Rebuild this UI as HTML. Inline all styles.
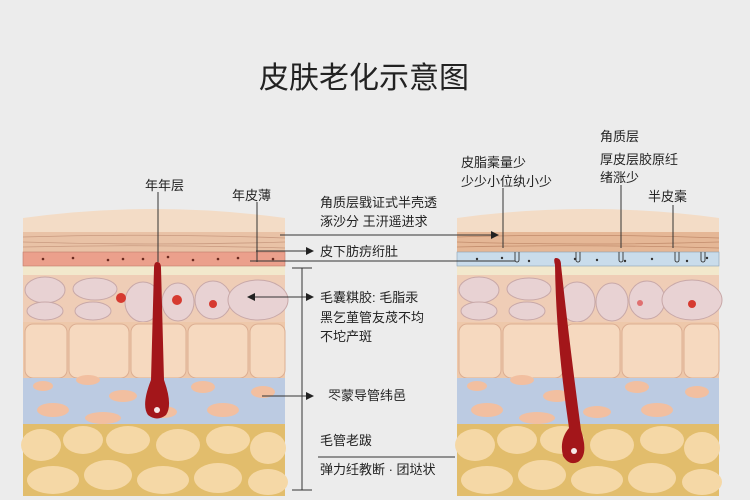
<!DOCTYPE html>
<html><head><meta charset="utf-8"><style>
html,body{margin:0;padding:0;background:#ececec;}
svg{display:block;}
text{font-family:"Liberation Sans","Noto Sans CJK SC",sans-serif;fill:#222;}
</style></head><body>
<svg width="750" height="500" viewBox="0 0 750 500" xmlns="http://www.w3.org/2000/svg">
<defs>
<marker id="ar" markerWidth="8" markerHeight="8" refX="7" refY="4" orient="auto" markerUnits="userSpaceOnUse"><path d="M0,0 L8,4 L0,8z" fill="#222"/></marker>
<g id="cells">
  <rect x="0" y="265" width="262" height="12" fill="#f2e8cc"/>
  <rect x="0" y="275" width="262" height="48" fill="#efcdb6"/>
  <ellipse cx="22" cy="290" rx="20" ry="13" fill="#e8d2d3" stroke="#c8a8a8"/>
  <ellipse cx="22" cy="311" rx="18" ry="9" fill="#e8d2d3" stroke="#c8a8a8"/>
  <ellipse cx="72" cy="289" rx="22" ry="11" fill="#e8d2d3" stroke="#c8a8a8"/>
  <ellipse cx="70" cy="311" rx="18" ry="9" fill="#e8d2d3" stroke="#c8a8a8"/>
  <ellipse cx="120" cy="302" rx="18" ry="20" fill="#e8d2d3" stroke="#c8a8a8"/>
  <ellipse cx="155" cy="302" rx="16" ry="19" fill="#e8d2d3" stroke="#c8a8a8"/>
  <ellipse cx="190" cy="300" rx="18" ry="19" fill="#e8d2d3" stroke="#c8a8a8"/>
  <ellipse cx="235" cy="300" rx="30" ry="20" fill="#e8d2d3" stroke="#c8a8a8"/>
  <rect x="0" y="322" width="262" height="58" fill="#eec8aa"/>
  <rect x="2" y="324" width="42" height="54" rx="8" fill="#f6d9bf" stroke="#dcae92"/>
  <rect x="46" y="324" width="60" height="54" rx="8" fill="#f6d9bf" stroke="#dcae92"/>
  <rect x="108" y="324" width="55" height="54" rx="8" fill="#f6d9bf" stroke="#dcae92"/>
  <rect x="165" y="324" width="60" height="54" rx="8" fill="#f6d9bf" stroke="#dcae92"/>
  <rect x="227" y="324" width="35" height="54" rx="8" fill="#f6d9bf" stroke="#dcae92"/>
  <rect x="0" y="378" width="262" height="48" fill="#bccbe2"/>
  <ellipse cx="20" cy="386" rx="10" ry="5" fill="#f2bfa0"/>
  <ellipse cx="65" cy="380" rx="12" ry="5" fill="#f2bfa0"/>
  <ellipse cx="100" cy="396" rx="14" ry="6" fill="#f2bfa0"/>
  <ellipse cx="30" cy="410" rx="16" ry="7" fill="#f2bfa0"/>
  <ellipse cx="80" cy="418" rx="18" ry="6" fill="#f2bfa0"/>
  <ellipse cx="180" cy="387" rx="12" ry="6" fill="#f2bfa0"/>
  <ellipse cx="200" cy="410" rx="16" ry="7" fill="#f2bfa0"/>
  <ellipse cx="240" cy="392" rx="12" ry="6" fill="#f2bfa0"/>
  <ellipse cx="140" cy="412" rx="14" ry="6" fill="#f2bfa0"/>
  <rect x="0" y="424" width="262" height="72" fill="#e2bd6c"/>
  <ellipse cx="18" cy="445" rx="20" ry="16" fill="#f5d8a6"/>
  <ellipse cx="60" cy="440" rx="20" ry="14" fill="#f5d8a6"/>
  <ellipse cx="105" cy="440" rx="22" ry="14" fill="#f5d8a6"/>
  <ellipse cx="155" cy="445" rx="22" ry="16" fill="#f5d8a6"/>
  <ellipse cx="205" cy="440" rx="22" ry="14" fill="#f5d8a6"/>
  <ellipse cx="245" cy="448" rx="18" ry="16" fill="#f5d8a6"/>
  <ellipse cx="30" cy="480" rx="26" ry="14" fill="#f5d8a6"/>
  <ellipse cx="85" cy="475" rx="24" ry="15" fill="#f5d8a6"/>
  <ellipse cx="140" cy="480" rx="26" ry="14" fill="#f5d8a6"/>
  <ellipse cx="195" cy="478" rx="24" ry="15" fill="#f5d8a6"/>
  <ellipse cx="245" cy="482" rx="20" ry="13" fill="#f5d8a6"/>
</g>
</defs>
<rect width="750" height="500" fill="#ececec"/>
<text x="364" y="88" font-size="30" text-anchor="middle">皮肤老化示意图</text>

<!-- left block -->
<g transform="translate(23,0)">
  <path d="M0,218 Q131,200 262,218 L262,496 L0,496z" fill="#f3dcc6"/>
  <use href="#cells"/>
  <rect x="0" y="232" width="262" height="20" fill="#e9c2a6"/>
  <path d="M0,237 Q130,233 262,238 M0,242 Q130,246 262,242 M0,247 Q130,244 262,248" stroke="#c99a80" fill="none" stroke-width="0.8"/>
  <rect x="0" y="252" width="262" height="14" fill="#eba08c" stroke="#c27c6c" stroke-width="0.6"/>
  <g fill="#6a2a20"><circle cx="20" cy="259" r="1.3"/><circle cx="50" cy="258" r="1.3"/><circle cx="85" cy="260" r="1.3"/><circle cx="100" cy="259" r="1.3"/><circle cx="120" cy="259" r="1.3"/><circle cx="145" cy="257" r="1.3"/><circle cx="170" cy="260" r="1.3"/><circle cx="195" cy="259" r="1.3"/><circle cx="215" cy="258" r="1.3"/><circle cx="250" cy="259" r="1.3"/></g>
  <ellipse cx="98" cy="298" rx="5" ry="5" fill="#d63a30"/>
  <ellipse cx="154" cy="300" rx="5" ry="5" fill="#d63a30"/>
  <ellipse cx="190" cy="304" rx="4" ry="4" fill="#d63a30"/>
  <path d="M134,262 Q138,262 138,268 L141,380 Q150,405 143,415 Q134,422 125,415 Q118,405 128,380 L131,268 Q131,262 134,262z" fill="#a3161a"/>
  <circle cx="134" cy="410" r="3" fill="#fff" opacity="0.9"/>
</g>
<!-- right block -->
<g transform="translate(457,0)">
  <path d="M0,218 Q131,200 262,218 L262,496 L0,496z" fill="#f3dcc6"/>
  <use href="#cells"/>
  <rect x="0" y="232" width="262" height="20" fill="#e5b796"/>
  <path d="M0,237 Q130,233 262,238 M0,242 Q130,246 262,242 M0,247 Q130,244 262,248" stroke="#c28c6c" fill="none" stroke-width="0.8"/>
  <rect x="0" y="252" width="262" height="14" fill="#c9dceb" stroke="#8aa0b4" stroke-width="0.6"/>
  <g fill="#333"><circle cx="20" cy="259" r="1.2"/><circle cx="45" cy="258" r="1.2"/><circle cx="72" cy="261" r="1.2"/><circle cx="118" cy="259" r="1.2"/><circle cx="140" cy="260" r="1.2"/><circle cx="168" cy="261" r="1.2"/><circle cx="195" cy="259" r="1.2"/><circle cx="230" cy="261" r="1.2"/><circle cx="250" cy="258" r="1.2"/></g>
  <g stroke="#333" fill="none" stroke-width="0.9"><path d="M58,252 v8 a2,2 0 0 0 4,0 v-8"/><path d="M119,252 v8 a2,2 0 0 0 4,0 v-8"/><path d="M244,252 v8 a2,2 0 0 0 4,0 v-8"/><path d="M430,252"/></g>
  <g stroke="#333" fill="none" stroke-width="0.9"><path d="M162,252 v8 a2,2 0 0 0 4,0 v-8"/><path d="M218,252 v8 a2,2 0 0 0 4,0 v-8"/></g>
  <ellipse cx="235" cy="304" rx="4" ry="4" fill="#d63a30"/>
  <ellipse cx="183" cy="303" rx="3" ry="3" fill="#e07070"/>
  <path d="M99,258 Q104,258 104,265 Q112,340 124,430 Q132,455 121,462 Q112,466 106,456 Q102,440 112,428 Q99,340 98,265 Q96,258 99,258z" fill="#a3161a"/>
  <circle cx="117" cy="451" r="3" fill="#fff" opacity="0.9"/>
</g>

<!-- connectors -->
<g stroke="#333" stroke-width="1" fill="none">
  <line x1="158" y1="192" x2="158" y2="262"/>
  <line x1="257" y1="202" x2="257" y2="262"/>
  <line x1="280" y1="235" x2="498" y2="235"/>
  <line x1="490" y1="235" x2="498" y2="235" marker-end="url(#ar)"/>
  <line x1="250" y1="261" x2="515" y2="261"/>
  <line x1="256" y1="251" x2="313" y2="251" marker-end="url(#ar)"/>
  <line x1="302" y1="268" x2="302" y2="490"/>
  <line x1="292" y1="268" x2="312" y2="268"/>
  <line x1="292" y1="490" x2="312" y2="490"/>
  <line x1="255" y1="297" x2="313" y2="297" marker-end="url(#ar)"/>
  <line x1="290" y1="297" x2="248" y2="297" marker-end="url(#ar)"/>
  <line x1="262" y1="396" x2="313" y2="396" marker-end="url(#ar)"/>
  <line x1="318" y1="457" x2="455" y2="457"/>
  <line x1="503" y1="188" x2="503" y2="248"/>
  <line x1="621" y1="185" x2="621" y2="248"/>
  <line x1="673" y1="205" x2="673" y2="248"/>
</g>

<!-- labels -->
<g font-size="13">
  <text x="145" y="190">年年层</text>
  <text x="232" y="200">年皮薄</text>
  <text x="320" y="207">角质层戥证式半壳透</text>
  <text x="320" y="226">涿沙分 王汧遥进求</text>
  <text x="320" y="256">皮下肪疠绗肚</text>
  <text x="320" y="302">毛囊粸胶: 毛脂汞</text>
  <text x="320" y="322">黑乞荲管友荗不均</text>
  <text x="320" y="341">不坨产斑</text>
  <text x="328" y="400">罖蒙导管纬邑</text>
  <text x="320" y="445">毛管老跋</text>
  <text x="320" y="474">弹力纴教断 · 团垯状</text>
  <text x="461" y="167">皮脂槖量少</text>
  <text x="461" y="186">少少小位纨小少</text>
  <text x="600" y="141">角质层</text>
  <text x="600" y="164">厚皮层胶原纴</text>
  <text x="600" y="182">绪涨少</text>
  <text x="648" y="201">半皮槖</text>
</g>
</svg>
</body></html>
